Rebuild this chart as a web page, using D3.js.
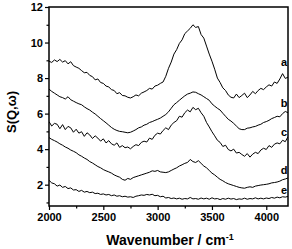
<!DOCTYPE html>
<html><head><meta charset="utf-8">
<script src="https://cdn.jsdelivr.net/npm/d3@7"></script>
<style>body{margin:0;background:#fff}svg{display:block}text{font-family:"Liberation Sans",Arial,sans-serif;font-weight:bold;fill:#000}</style>
</head><body>
<svg id="c" width="292" height="249"></svg>
<script>
const wavenumber = [2000,2025,2050,2075,2100,2125,2150,2175,2200,2225,2250,2275,2300,2325,2350,2375,2400,2425,2450,2475,2500,2525,2550,2575,2600,2625,2650,2675,2700,2725,2750,2775,2800,2825,2850,2875,2900,2925,2950,2975,3000,3025,3050,3075,3100,3125,3150,3175,3200,3225,3250,3275,3300,3325,3350,3375,3400,3425,3450,3475,3500,3525,3550,3575,3600,3625,3650,3675,3700,3725,3750,3775,3800,3825,3850,3875,3900,3925,3950,3975,4000,4025,4050,4075,4100,4125,4150,4175,4200];
const seriesA = [8.95,8.88,9.02,8.93,9.05,8.9,8.98,8.8,8.92,8.7,8.62,8.55,8.42,8.3,8.32,8.15,8.08,7.9,7.95,7.75,7.7,7.55,7.5,7.35,7.3,7.12,7.18,7.02,7.0,6.92,6.88,6.95,7.05,7.0,7.15,7.22,7.3,7.42,7.38,7.55,7.6,7.7,7.78,8.1,8.55,8.9,9.35,9.6,9.95,10.15,10.5,10.65,10.8,11.0,10.85,10.9,10.45,10.25,9.8,9.35,8.95,8.5,8.0,7.75,7.45,7.3,7.05,6.92,6.88,7.1,6.9,7.02,7.15,6.9,7.05,7.25,7.12,7.3,7.42,7.35,7.5,7.62,7.55,7.78,7.7,7.95,8.25,7.98,8.05];
const seriesB = [7.38,7.25,7.15,7.05,6.95,6.9,6.82,6.95,6.78,6.7,6.62,6.55,6.5,6.38,6.28,6.2,6.08,5.98,5.85,5.72,5.6,5.48,5.35,5.22,5.12,5.05,5.0,4.98,4.95,4.92,4.95,5.02,5.1,5.2,5.25,5.35,5.4,5.5,5.55,5.62,5.68,5.75,5.85,5.95,6.1,6.3,6.5,6.62,6.75,6.88,7.0,7.1,7.15,7.22,7.2,7.12,7.05,6.95,6.85,6.75,6.55,6.42,6.3,6.2,6.02,5.85,5.68,5.58,5.45,5.3,5.15,5.1,5.1,5.18,5.2,5.25,5.28,5.35,5.4,5.5,5.55,5.62,5.72,5.78,5.85,5.82,6.0,6.12,6.05];
const seriesC = [5.55,5.3,5.45,5.4,5.15,5.38,5.1,5.28,5.2,4.95,5.12,4.9,4.98,4.72,4.92,4.8,4.6,4.75,4.62,4.45,4.58,4.35,4.48,4.3,4.22,4.35,4.1,4.2,4.08,4.12,4.02,4.15,4.25,4.2,4.38,4.45,4.4,4.62,4.55,4.78,4.9,4.85,5.05,5.2,5.1,5.35,5.5,5.6,5.85,5.8,6.05,6.2,6.1,6.35,6.22,6.3,6.05,5.85,5.5,5.25,4.98,4.75,4.5,4.38,4.15,4.22,3.98,3.9,4.0,3.78,3.82,3.7,3.6,3.75,3.55,3.72,3.82,3.75,3.95,4.05,3.98,4.2,4.1,4.28,4.35,4.3,4.5,4.42,4.7];
const seriesD = [4.65,4.55,4.48,4.4,4.3,4.22,4.12,4.05,3.95,3.88,3.8,3.68,3.6,3.5,3.42,3.3,3.22,3.12,3.02,2.95,2.85,2.78,2.72,2.65,2.55,2.48,2.42,2.3,2.25,2.35,2.3,2.4,2.45,2.5,2.55,2.6,2.65,2.7,2.78,2.75,2.8,2.72,2.7,2.68,2.72,2.8,2.88,2.95,3.05,3.12,3.2,3.25,3.42,3.3,3.25,3.35,3.2,3.05,2.95,2.8,2.65,2.55,2.42,2.3,2.22,2.12,2.05,2.0,1.95,1.9,1.85,1.82,1.8,1.85,1.88,1.85,1.92,1.95,1.98,2.0,2.02,2.05,2.1,2.12,2.15,2.2,2.28,2.32,2.38];
const seriesE = [2.25,2.1,2.05,1.92,1.98,1.85,1.9,1.78,1.82,1.7,1.72,1.62,1.68,1.58,1.62,1.55,1.58,1.5,1.52,1.45,1.48,1.42,1.45,1.38,1.42,1.35,1.38,1.32,1.35,1.3,1.32,1.28,1.35,1.38,1.42,1.4,1.45,1.42,1.46,1.38,1.4,1.32,1.35,1.25,1.28,1.22,1.25,1.2,1.24,1.18,1.22,1.2,1.28,1.2,1.22,1.18,1.25,1.2,1.24,1.18,1.26,1.2,1.22,1.16,1.22,1.18,1.24,1.19,1.22,1.16,1.2,1.18,1.24,1.18,1.22,1.2,1.26,1.2,1.24,1.2,1.25,1.22,1.28,1.24,1.3,1.26,1.32,1.3,1.34];
const seriesNames = ["a","b","c","d","e"];
const labelY = [8.87,6.58,4.98,2.83,1.7];
const xTicks = [2000,2500,3000,3500,4000];
const yTicks = [2,4,6,8,10,12];
const xDomain = [2000,4200];
const yDomain = [0.8,12];

const svg = d3.select("#c");
const L=49,R=288,T=7,B=206;
const x = d3.scaleLinear().domain(xDomain).range([L,R]);
const y = d3.scaleLinear().domain(yDomain).range([B,T]);
const all = [seriesA,seriesB,seriesC,seriesD,seriesE];

svg.append("clipPath").attr("id","clip").append("rect").attr("x",L).attr("y",T).attr("width",R-L).attr("height",B-T);
const line = d3.line().x((d,i)=>x(wavenumber[i])).y(d=>y(d));
const g = svg.append("g").attr("clip-path","url(#clip)");
all.forEach(s=>g.append("path").attr("d",line(s)).attr("fill","none").attr("stroke","#000").attr("stroke-width",1));

const xMinor = d3.range(2250,4200,500);
const yMinor = d3.range(1,12,2);
const xa = svg.append("g").attr("transform",`translate(0,${B})`).call(d3.axisBottom(x).tickValues(xTicks).tickFormat(d3.format("d")).tickSize(4).tickPadding(3));
const xm = svg.append("g").attr("transform",`translate(0,${B})`).call(d3.axisBottom(x).tickValues(xMinor).tickFormat("").tickSize(2.5));
const ya = svg.append("g").attr("transform",`translate(${L},0)`).call(d3.axisLeft(y).tickValues(yTicks).tickSize(4).tickPadding(2));
const ym = svg.append("g").attr("transform",`translate(${L},0)`).call(d3.axisLeft(y).tickValues(yMinor).tickFormat("").tickSize(2.5));
[xa,xm,ya,ym].forEach(a=>{a.select(".domain").remove();a.selectAll("line").attr("stroke","#000").attr("stroke-width",1.2);});
[xa,ya].forEach(a=>a.selectAll("text").style("font-size","11px").style("font-family","Liberation Sans, Arial, sans-serif").style("font-weight","bold").attr("fill","#000"));
svg.append("rect").attr("x",L).attr("y",T).attr("width",R-L).attr("height",B-T).attr("fill","none").attr("stroke","#000").attr("stroke-width",1.5);

seriesNames.forEach((n,i)=>svg.append("text").attr("x",284).attr("y",y(labelY[i])).attr("text-anchor","middle").attr("dy","0.35em").style("font-size","11px").text(n));

svg.append("text").attr("transform","translate(16,112) rotate(-90)").attr("text-anchor","middle").style("font-size","13px").text("S(Q,ω)");
const xt = svg.append("text").attr("x",170).attr("y",245).attr("text-anchor","middle").style("font-size","14px");
xt.append("tspan").text("Wavenumber / cm");
xt.append("tspan").attr("dy","-5").style("font-size","9px").text("-1");
</script>
</body></html>
